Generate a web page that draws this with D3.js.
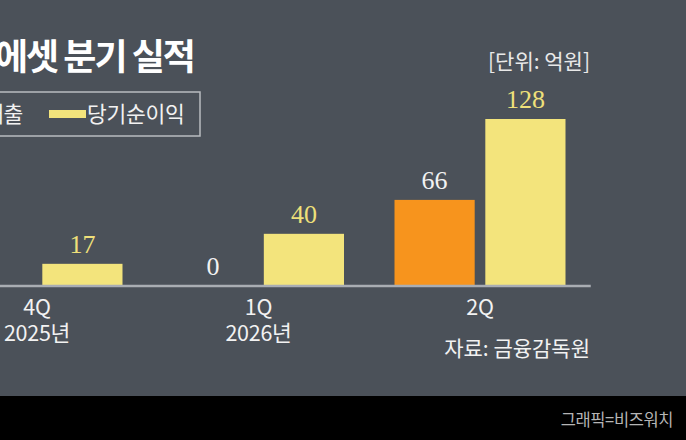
<!DOCTYPE html>
<html>
<head>
<meta charset="utf-8">
<script src="https://cdn.jsdelivr.net/npm/d3@7"></script>
<style>
  html, body { margin: 0; padding: 0; background: #4b5159; }
  svg { display: block; }
</style>
</head>
<body>
<div id="chart"></div>
<script>
// data
const quarters = ["4Q", "1Q", "2Q"];
const years = ["2025년", "2026년", ""];
const seriesNames = ["매출", "당기순이익"];
const sales = [0, 0, 66];
const netIncome = [17, 40, 128];

const width = 686, height = 440;
const bg = "#4b5159";
const colors = { "매출": "#f7941d", "당기순이익": "#f3e47c" };
const labelColors = { "매출": "#f2f2f2", "당기순이익": "#efe07a" };
const sans = "'Noto Sans CJK KR', 'Noto Sans', sans-serif";
const serif = "'Liberation Serif', 'DejaVu Serif', serif";

const baseY = 286;

const svg = d3.select("#chart")
  .append("svg")
  .attr("width", width)
  .attr("height", height);

svg.append("rect")
  .attr("width", width)
  .attr("height", height)
  .attr("fill", bg);

// scales
const x0 = d3.scaleBand()
  .domain(quarters)
  .range([-73.75, 590.75]);

const x1 = d3.scaleBand()
  .domain(seriesNames)
  .range([25.25, 196.25])
  .paddingInner(0.117);

const y = d3.scaleLinear()
  .domain([0, 128])
  .range([baseY, 119]);

const rows = quarters.map((q, i) => ({
  q, year: years[i],
  values: [
    { key: "매출", v: sales[i] },
    { key: "당기순이익", v: netIncome[i] }
  ]
}));

// title
svg.append("text")
  .attr("x", 194)
  .attr("y", 70)
  .attr("text-anchor", "end")
  .attr("fill", "#ffffff")
  .attr("font-family", sans)
  .attr("font-weight", 700)
  .attr("font-size", 36)
  .attr("letter-spacing", -2)
  .text("에셋 분기 실적");

// legend
svg.append("rect")
  .attr("x", -100)
  .attr("y", 92)
  .attr("width", 300)
  .attr("height", 44)
  .attr("fill", "none")
  .attr("stroke", "#b9bcc0")
  .attr("stroke-width", 1.5);

const legendItems = [
  { key: "매출", sx: -62, tx: -16 },
  { key: "당기순이익", sx: 49, tx: 87 }
];
legendItems.forEach(d => {
  svg.append("rect")
    .attr("x", d.sx)
    .attr("y", 110)
    .attr("width", 37)
    .attr("height", 8)
    .attr("fill", colors[d.key]);
  svg.append("text")
    .attr("x", d.tx)
    .attr("y", 122)
    .attr("fill", "#f2f2f2")
    .attr("font-family", sans)
    .attr("font-size", 21.5)
    .attr("letter-spacing", -0.3)
    .text(d.key);
});

// unit
svg.append("text")
  .attr("x", 590)
  .attr("y", 68.5)
  .attr("text-anchor", "end")
  .attr("fill", "#e9e9e9")
  .attr("font-family", sans)
  .attr("font-size", 21)
  .text("[단위: 억원]");

// bars
const groups = svg.append("g")
  .selectAll("g")
  .data(rows)
  .join("g")
  .attr("transform", d => `translate(${x0(d.q)},0)`);

groups.selectAll("rect")
  .data(d => d.values)
  .join("rect")
  .attr("x", d => x1(d.key))
  .attr("y", d => y(d.v))
  .attr("width", x1.bandwidth())
  .attr("height", d => baseY - y(d.v))
  .attr("fill", d => colors[d.key]);

// value labels (skip the one that falls off the left edge, as in the crop)
groups.selectAll("text.val")
  .data(d => d.values.map(v => ({ ...v, gx: x0(d.q) })))
  .join("text")
  .attr("class", "val")
  .attr("x", d => x1(d.key) + x1.bandwidth() / 2)
  .attr("y", d => y(d.v) - 11)
  .attr("text-anchor", "middle")
  .attr("fill", d => labelColors[d.key])
  .attr("font-family", serif)
  .attr("font-size", 26)
  .attr("display", d => d.gx + x1(d.key) + x1.bandwidth() / 2 < 10 ? "none" : null)
  .text(d => d.v);

// baseline
svg.append("line")
  .attr("x1", x0.range()[0])
  .attr("x2", x0.range()[1])
  .attr("y1", baseY)
  .attr("y2", baseY)
  .attr("stroke", "#a9adb3")
  .attr("stroke-width", 2.5);

// x labels: quarter + year in one text
rows.forEach(d => {
  const cx = x0(d.q) + x0.bandwidth() / 2;
  const t = svg.append("text")
    .attr("x", cx)
    .attr("y", 314.5)
    .attr("text-anchor", "middle")
    .attr("fill", "#f2f2f2")
    .attr("font-family", sans)
    .attr("font-size", 21.5)
    .attr("letter-spacing", -0.3);
  t.append("tspan").attr("x", cx).text(d.q);
  if (d.year) {
    t.append("tspan").attr("x", cx).attr("dy", 26.5).text(d.year);
  }
});

// source
svg.append("text")
  .attr("x", 590)
  .attr("y", 356)
  .attr("text-anchor", "end")
  .attr("fill", "#f2f2f2")
  .attr("font-family", sans)
  .attr("font-size", 21)
  .text("자료: 금융감독원");

// footer band
svg.append("rect")
  .attr("x", 0)
  .attr("y", 396)
  .attr("width", width)
  .attr("height", height - 396)
  .attr("fill", "#000000");

svg.append("text")
  .attr("x", 673)
  .attr("y", 426)
  .attr("text-anchor", "end")
  .attr("fill", "#b5b5b5")
  .attr("font-family", sans)
  .attr("font-size", 16.5)
  .attr("letter-spacing", -0.4)
  .text("그래픽=비즈워치");
</script>
</body>
</html>
